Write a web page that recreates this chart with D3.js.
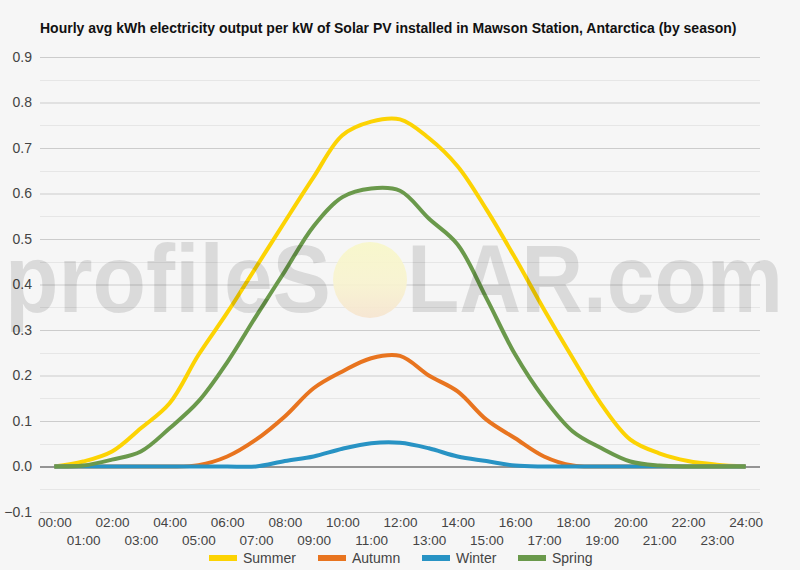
<!DOCTYPE html>
<html>
<head>
<meta charset="utf-8">
<script src="https://cdn.jsdelivr.net/npm/d3@7"></script>
<style>
  html, body { margin: 0; padding: 0; background: #f6f6f6; }
  svg { display: block; font-family: "Liberation Sans", Arial, sans-serif; }
</style>
</head>
<body>
<svg id="chart" width="800" height="570"></svg>
<script>
const hours = ["00:00","01:00","02:00","03:00","04:00","05:00","06:00","07:00","08:00","09:00","10:00","11:00","12:00",
               "13:00","14:00","15:00","16:00","17:00","18:00","19:00","20:00","21:00","22:00","23:00","24:00"];
const summer = [0, 0.011, 0.033, 0.084, 0.139, 0.245, 0.338, 0.438, 0.538, 0.636, 0.728, 0.758, 0.763,
                0.722, 0.66, 0.565, 0.458, 0.345, 0.238, 0.136, 0.059, 0.029, 0.012, 0.004, 0];
const autumn = [0, 0, 0, 0, 0, 0.003, 0.022, 0.059, 0.11, 0.172, 0.209, 0.238, 0.243,
                0.2, 0.165, 0.103, 0.062, 0.022, 0.002, 0, 0, 0, 0, 0, 0];
const winter = [0, 0, 0, 0, 0, 0, 0, 0, 0.012, 0.022, 0.039, 0.051, 0.052,
                0.04, 0.022, 0.012, 0.002, 0, 0, 0, 0, 0, 0, 0, 0];
const spring = [0, 0.002, 0.015, 0.033, 0.084, 0.143, 0.229, 0.33, 0.429, 0.528, 0.592, 0.611, 0.606,
                0.545, 0.488, 0.37, 0.246, 0.15, 0.077, 0.04, 0.011, 0.002, 0, 0, 0];
const seriesNames = ["Summer", "Autumn", "Winter", "Spring"];
const seriesColors = ["#fcd303", "#e8741f", "#2893c4", "#6a994b"];
const yTicks = [-0.1, 0, 0.1, 0.2, 0.3, 0.4, 0.5, 0.6, 0.7, 0.8, 0.9];
const title = "Hourly avg kWh electricity output per kW of Solar PV installed in Mawson Station, Antarctica (by season)";

const series = [summer, autumn, winter, spring].map((v, i) => ({ name: seriesNames[i], color: seriesColors[i], values: v }));

const svg = d3.select("#chart");
const L = 40, R = 760, T = 57, B = 512;

svg.append("rect").attr("width", 800).attr("height", 570).attr("fill", "#f6f6f6");

const x = d3.scalePoint().domain(hours).range([L, R]).padding(0.5);
const y = d3.scaleLinear().domain([-0.1, 0.9]).range([B, T]);

// minor gridlines
const minor = d3.range(-0.05, 0.9, 0.1);
svg.append("g").selectAll("line").data(minor).join("line")
  .attr("x1", L).attr("x2", R)
  .attr("y1", d => Math.round(y(d)) + 0.5).attr("y2", d => Math.round(y(d)) + 0.5)
  .attr("stroke", "#e6e6e6").attr("stroke-width", 1);

// major gridlines + labels via axis
const yAxis = d3.axisLeft(y).tickValues(yTicks).tickSize(-(R - L)).tickFormat(d3.format(".1f"));
const gy = svg.append("g").attr("transform", `translate(${L},0)`).call(yAxis);
gy.select(".domain").remove();
gy.selectAll(".tick line").attr("stroke", d => d === 0 ? "#333" : "#cccccc");
gy.selectAll(".tick text").attr("x", -8).attr("fill", "#444").attr("font-size", 14)
  .attr("font-family", "Liberation Sans, Arial, sans-serif");

// x axis labels (two staggered rows)
const xAxis = d3.axisBottom(x).tickSize(0);
const gx = svg.append("g").attr("transform", `translate(0,${B})`).call(xAxis);
gx.select(".domain").remove();
gx.selectAll(".tick text")
  .attr("y", (d, i) => i % 2 === 0 ? 5 : 23)
  .attr("dy", "0.71em")
  .attr("fill", "#444").attr("font-size", 13.5)
  .attr("font-family", "Liberation Sans, Arial, sans-serif");

// lines
const line = d3.line().x((d, i) => x(hours[i])).y(d => y(d)).curve(d3.curveCatmullRom.alpha(0.5));
svg.append("g").selectAll("path").data(series).join("path")
  .attr("d", d => line(d.values))
  .attr("fill", "none")
  .attr("stroke", d => d.color)
  .attr("stroke-width", 4)
  .attr("stroke-linejoin", "round")
  .attr("stroke-linecap", "butt");

// watermark
const defs = svg.append("defs");
const grad = defs.append("linearGradient").attr("id", "sun").attr("x1", 0).attr("y1", 0).attr("x2", 0).attr("y2", 1);
grad.append("stop").attr("offset", "0%").attr("stop-color", "#f8f7c8");
grad.append("stop").attr("offset", "55%").attr("stop-color", "#f8f3cf");
grad.append("stop").attr("offset", "100%").attr("stop-color", "#f6e4cf");
const wm = svg.append("g").attr("pointer-events", "none");
wm.append("text").attr("x", 5).attr("y", 312)
  .attr("font-size", 96).attr("font-weight", "bold")
  .attr("font-family", "Liberation Sans, Arial, sans-serif")
  .attr("textLength", 326).attr("lengthAdjust", "spacingAndGlyphs")
  .attr("fill", "#000").attr("fill-opacity", 0.115)
  .text("profileS");
wm.append("ellipse").attr("cx", 370).attr("cy", 280).attr("rx", 37).attr("ry", 38)
  .attr("fill", "url(#sun)").attr("fill-opacity", 0.9);
wm.append("text").attr("x", 407).attr("y", 312)
  .attr("font-size", 96).attr("font-weight", "bold")
  .attr("font-family", "Liberation Sans, Arial, sans-serif")
  .attr("textLength", 376).attr("lengthAdjust", "spacingAndGlyphs")
  .attr("fill", "#000").attr("fill-opacity", 0.115)
  .text("LAR.com");

// title
svg.append("text").attr("x", 40).attr("y", 33)
  .attr("font-size", 14).attr("font-weight", "bold").attr("fill", "#111")
  .attr("font-family", "Liberation Sans, Arial, sans-serif")
  .text(title);

// legend
const legendX = [209, 318, 422, 518];
const lg = svg.append("g").selectAll("g").data(series).join("g")
  .attr("transform", (d, i) => `translate(${legendX[i]},558)`);
lg.append("line").attr("x1", 0).attr("x2", 28).attr("y1", 0).attr("y2", 0)
  .attr("stroke", d => d.color).attr("stroke-width", 6);
lg.append("text").attr("x", 34).attr("y", 0).attr("dy", "0.35em")
  .attr("font-size", 14).attr("fill", "#444")
  .attr("font-family", "Liberation Sans, Arial, sans-serif")
  .text(d => d.name);
</script>
</body>
</html>
